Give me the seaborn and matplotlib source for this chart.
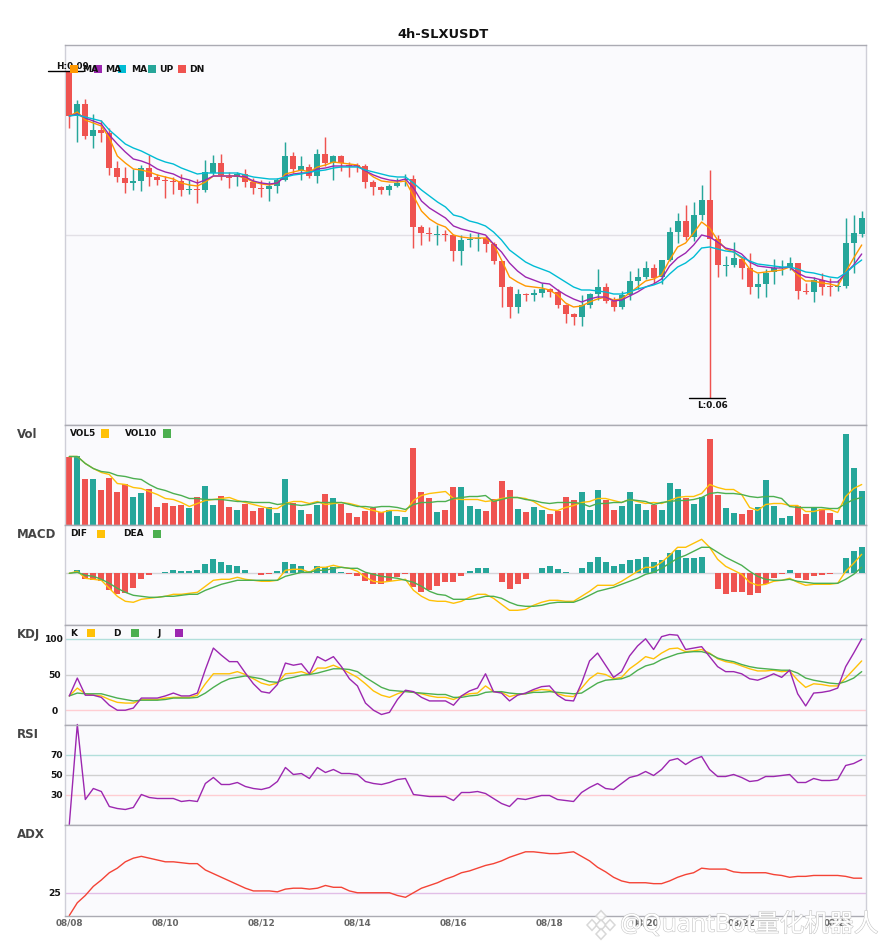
"""
plot.py
Rebuilds the 4h-SLXUSDT indicator board: candles, Vol, MACD, KDJ, RSI, ADX.
"""

import numpy as np
import pandas as pd
import matplotlib.pyplot as plt
import matplotlib.patheffects as pe
from matplotlib.patches import Rectangle, RegularPolygon
import seaborn as sns

# Prices are in units of 0.0001
open_px = [926, 882, 894, 862, 868, 865, 830, 820, 815, 817, 830, 821, 818, 817, 817, 808, 809, 808, 825, 835,
           821, 821, 824, 816, 810, 809, 812, 818, 842, 827, 831, 822, 844, 835, 842, 833, 833, 832, 816, 811,
           808, 812, 818, 819, 771, 765, 763, 764, 763, 747, 758, 759, 760, 754, 737, 711, 691, 704, 703, 705,
           709, 706, 693, 684, 681, 693, 704, 711, 697, 691, 703, 717, 721, 730, 721, 738, 766, 777, 761, 783,
           798, 759, 732, 733, 739, 730, 711, 714, 726, 730, 731, 735, 707, 706, 718, 712, 711, 712, 755, 764]
close_px = [882, 894, 862, 868, 865, 830, 821, 815, 817, 830, 821, 818, 817, 816, 808, 809, 808, 826, 835, 823,
            820, 824, 816, 810, 809, 812, 818, 842, 829, 832, 822, 844, 835, 842, 835, 832, 832, 816, 811, 808,
            812, 815, 819, 771, 765, 764, 764, 763, 747, 758, 759, 760, 754, 737, 711, 691, 704, 703, 705, 709,
            706, 693, 684, 681, 693, 704, 711, 697, 691, 703, 717, 721, 730, 720, 738, 766, 777, 761, 783, 798,
            759, 733, 733, 740, 730, 711, 714, 725, 730, 731, 735, 707, 706, 718, 711, 711, 712, 755, 765, 780]
high_px = [927, 898, 899, 884, 878, 870, 837, 831, 829, 833, 843, 824, 822, 821, 824, 818, 819, 838, 843, 844,
           826, 826, 829, 820, 818, 817, 820, 856, 846, 842, 834, 849, 861, 843, 843, 836, 835, 834, 818, 812,
           814, 820, 824, 823, 773, 771, 773, 768, 764, 763, 765, 765, 762, 756, 737, 712, 709, 705, 709, 715,
           710, 709, 694, 685, 703, 705, 729, 715, 701, 707, 727, 730, 737, 734, 738, 771, 785, 793, 796, 813,
           828, 763, 742, 756, 741, 745, 725, 729, 739, 738, 741, 735, 715, 721, 725, 720, 718, 780, 783, 787]
low_px = [870, 856, 859, 850, 856, 823, 816, 805, 808, 807, 812, 813, 800, 804, 802, 804, 795, 806, 823, 818,
          810, 812, 811, 804, 801, 797, 805, 817, 825, 818, 820, 815, 832, 818, 827, 821, 826, 810, 803, 804,
          803, 811, 812, 750, 753, 757, 753, 757, 737, 733, 751, 747, 746, 734, 691, 680, 685, 697, 697, 701,
          701, 690, 675, 673, 672, 690, 698, 695, 687, 689, 698, 709, 719, 714, 714, 737, 755, 758, 757, 778,
          600, 721, 722, 731, 719, 704, 700, 701, 714, 723, 728, 699, 704, 696, 703, 702, 707, 710, 725, 761]
ma5 = [882, 886, 878, 875, 872, 860, 842, 835, 829, 828, 826, 823, 821, 819, 815, 813, 812, 816, 822, 822,
       822, 822, 820, 816, 814, 813, 815, 824, 826, 828, 826, 831, 833, 836, 835, 834, 833, 827, 821, 817,
       816, 816, 817, 802, 787, 779, 774, 771, 763, 761, 760, 760, 760, 754, 738, 721, 716, 712, 711, 710,
       708, 703, 695, 691, 692, 696, 699, 701, 698, 699, 705, 711, 717, 719, 723, 738, 751, 755, 765, 776,
       770, 758, 749, 746, 740, 729, 725, 726, 727, 728, 731, 723, 717, 717, 715, 714, 712, 726, 740, 753]
ma10 = [882, 884, 880, 877, 874, 863, 854, 846, 839, 837, 834, 829, 826, 824, 820, 818, 815, 818, 822, 822,
        822, 822, 821, 817, 815, 814, 815, 822, 824, 825, 825, 829, 830, 832, 832, 832, 832, 827, 823, 820,
        818, 817, 819, 810, 797, 790, 785, 780, 772, 769, 767, 765, 763, 754, 746, 735, 727, 721, 718, 715,
        714, 708, 703, 699, 696, 699, 701, 701, 697, 698, 702, 706, 711, 714, 719, 732, 740, 745, 753, 763,
        761, 756, 750, 748, 744, 736, 732, 731, 730, 730, 731, 725, 721, 720, 718, 716, 716, 725, 733, 744]
ma20 = [882, 883, 881, 879, 877, 868, 861, 854, 850, 847, 843, 839, 836, 834, 830, 827, 824, 825, 825, 825,
        825, 825, 823, 821, 820, 819, 819, 821, 823, 824, 826, 827, 828, 830, 831, 831, 831, 828, 826, 824,
        822, 821, 821, 815, 808, 802, 796, 791, 783, 781, 777, 775, 772, 766, 758, 748, 742, 736, 732, 729,
        726, 721, 716, 711, 708, 708, 707, 706, 704, 704, 706, 709, 711, 713, 716, 724, 731, 735, 741, 750,
        751, 749, 747, 746, 741, 737, 734, 733, 732, 731, 731, 729, 726, 725, 723, 721, 720, 725, 732, 738]

volume = [68, 69, 46, 46, 35, 47, 33, 41, 28, 32, 36, 18, 22, 19, 20, 17, 28, 39, 20, 29,
          18, 15, 21, 14, 17, 18, 12, 46, 22, 15, 11, 20, 31, 27, 21, 12, 8, 14, 17, 13,
          15, 9, 8, 77, 33, 27, 13, 15, 38, 38, 19, 16, 14, 26, 44, 35, 16, 13, 18, 15,
          11, 14, 28, 25, 33, 15, 35, 25, 15, 19, 33, 21, 15, 20, 15, 42, 36, 27, 21, 28,
          86, 30, 17, 12, 11, 15, 18, 45, 19, 7, 9, 19, 11, 18, 16, 12, 5, 91, 57, 34]
vol5 = [68, 68, 61, 56, 52, 50, 41, 40, 37, 36, 33, 30, 26, 25, 22, 18, 21, 24, 25, 26,
        27, 24, 22, 20, 18, 16, 16, 21, 23, 23, 21, 23, 20, 21, 22, 21, 19, 16, 14, 12,
        14, 14, 13, 24, 29, 31, 32, 33, 26, 25, 25, 25, 23, 24, 26, 27, 27, 26, 23, 18,
        15, 14, 17, 19, 22, 23, 26, 26, 24, 22, 25, 23, 21, 22, 21, 24, 27, 28, 28, 31,
        40, 37, 35, 35, 30, 17, 14, 20, 21, 21, 19, 19, 13, 13, 15, 15, 12, 28, 36, 40]
vol10 = [68, 68, 61, 56, 53, 52, 49, 48, 46, 45, 40, 36, 34, 31, 29, 26, 26, 25, 25, 25,
         24, 23, 23, 22, 22, 22, 20, 21, 20, 19, 20, 22, 22, 22, 22, 20, 18, 18, 17, 18,
         18, 17, 15, 20, 22, 22, 23, 23, 26, 27, 28, 28, 29, 23, 25, 27, 27, 25, 24, 22,
         21, 22, 22, 22, 21, 18, 21, 21, 22, 22, 25, 24, 23, 20, 22, 23, 24, 24, 25, 27,
         31, 32, 31, 31, 30, 28, 27, 28, 28, 26, 18, 17, 17, 17, 17, 16, 16, 21, 25, 27]

macd_hist = [0, 3, -6, -7, -8, -17, -21, -20, -15, -6, -2, 0, 1, 3, 2, 2, 3, 9, 14, 11,
             8, 7, 3, 0, -2, -1, 2, 11, 9, 7, 2, 7, 6, 6, 1, -1, -3, -8, -11, -11,
             -8, -4, -1, -14, -19, -17, -13, -9, -9, -3, 2, 5, 5, 0, -9, -16, -11, -6, 0, 5,
             7, 4, 1, 0, 5, 11, 16, 11, 7, 9, 13, 14, 16, 11, 13, 20, 23, 15, 15, 16,
             0, -16, -21, -19, -19, -22, -20, -11, -5, -1, 3, -5, -7, -3, -2, -1, 0, 15, 22, 26]
dif = [0, 2, -5, -6, -7, -15, -23, -28, -29, -26, -25, -24, -23, -21, -21, -20, -19, -13, -7, -6,
       -6, -4, -6, -7, -8, -8, -7, 3, 4, 4, 1, 6, 6, 8, 6, 5, 2, -4, -8, -9,
       -8, -7, -6, -17, -23, -27, -28, -28, -30, -28, -24, -21, -21, -25, -31, -37, -37, -36, -32, -29,
       -27, -27, -28, -28, -23, -18, -12, -12, -12, -8, -3, 2, 6, 6, 11, 18, 26, 26, 30, 34,
       26, 14, 7, 3, -1, -9, -12, -11, -8, -7, -5, -9, -12, -11, -11, -11, -10, 2, 10, 19]
dea = [0, 1, -2, -3, -6, -10, -15, -19, -22, -23, -24, -24, -23, -23, -22, -21, -21, -17, -14, -11,
       -9, -7, -7, -7, -7, -7, -7, -3, -1, 1, 1, 3, 3, 5, 6, 5, 5, 1, -1, -3,
       -4, -5, -7, -9, -13, -18, -21, -22, -26, -26, -26, -25, -23, -23, -25, -29, -32, -33, -33, -32,
       -30, -29, -29, -29, -26, -22, -18, -16, -14, -11, -8, -5, -1, 1, 5, 10, 15, 18, 22, 26,
       26, 21, 16, 12, 8, 2, -3, -6, -7, -7, -6, -8, -9, -10, -10, -10, -10, -6, -1, 6]

kdj_k = [20, 31, 23, 21, 20, 15, 11, 10, 10, 15, 15, 15, 17, 18, 18, 18, 21, 37, 51, 51,
         51, 54, 50, 44, 38, 35, 38, 51, 52, 54, 50, 59, 59, 63, 58, 52, 46, 37, 27, 21,
         18, 23, 27, 25, 23, 20, 18, 18, 15, 20, 23, 24, 34, 26, 25, 19, 22, 23, 27, 29,
         28, 23, 20, 19, 31, 44, 52, 50, 44, 46, 58, 66, 75, 72, 80, 86, 87, 82, 83, 85,
         80, 72, 68, 66, 62, 58, 55, 55, 56, 54, 55, 42, 32, 37, 36, 34, 34, 45, 57, 69]
kdj_d = [20, 24, 23, 23, 23, 20, 17, 15, 13, 14, 14, 14, 15, 17, 17, 17, 18, 24, 32, 39,
         44, 46, 48, 46, 44, 40, 39, 44, 46, 49, 50, 52, 55, 58, 58, 57, 54, 46, 39, 32,
         28, 27, 26, 25, 24, 23, 22, 22, 18, 18, 20, 21, 25, 26, 26, 24, 23, 23, 25, 25,
         26, 25, 24, 23, 24, 31, 38, 42, 43, 44, 48, 56, 62, 65, 71, 75, 79, 81, 82, 82,
         79, 73, 70, 68, 64, 61, 59, 58, 57, 56, 56, 52, 45, 42, 40, 38, 37, 40, 45, 54]
kdj_j = [20, 45, 21, 21, 18, 7, 0, 0, 3, 17, 17, 17, 20, 24, 20, 20, 24, 57, 87, 77,
         68, 68, 52, 37, 26, 24, 36, 66, 63, 65, 51, 75, 69, 75, 61, 44, 34, 10, 0, -6,
         -3, 15, 28, 26, 18, 13, 13, 13, 7, 20, 27, 31, 51, 26, 24, 13, 21, 24, 29, 33,
         34, 21, 14, 13, 38, 69, 80, 63, 46, 54, 76, 90, 100, 85, 103, 106, 105, 85, 87, 89,
         75, 61, 54, 54, 51, 44, 42, 46, 51, 46, 56, 23, 6, 24, 25, 27, 31, 61, 80, 100]
rsi = [0, 100, 25, 36, 33, 18, 16, 15, 17, 30, 27, 26, 26, 26, 23, 24, 23, 41, 47, 40,
       40, 42, 38, 36, 35, 37, 43, 57, 50, 51, 46, 57, 52, 55, 51, 51, 50, 43, 41, 40,
       42, 45, 46, 30, 29, 28, 28, 28, 24, 32, 32, 33, 31, 26, 21, 18, 26, 25, 27, 29,
       29, 25, 24, 23, 32, 37, 41, 36, 35, 41, 47, 49, 53, 49, 55, 64, 66, 60, 65, 68,
       55, 48, 48, 50, 47, 43, 44, 48, 48, 49, 50, 42, 42, 46, 44, 44, 45, 59, 61, 65]
adx = [0, 14, 22, 32, 39, 47, 52, 59, 63, 65, 63, 61, 59, 59, 58, 57, 57, 50, 46, 42,
       38, 34, 30, 27, 27, 27, 26, 29, 30, 30, 29, 30, 33, 31, 31, 27, 25, 25, 25, 25,
       25, 22, 20, 25, 30, 33, 36, 40, 43, 47, 49, 52, 55, 57, 60, 64, 67, 70, 70, 69,
       68, 68, 69, 70, 65, 60, 53, 48, 42, 38, 36, 36, 36, 35, 35, 38, 42, 45, 47, 52,
       51, 51, 51, 48, 47, 47, 47, 47, 45, 44, 42, 43, 43, 44, 44, 44, 44, 43, 41, 41]

date_labels = ["08/08", "08/10", "08/12", "08/14", "08/16", "08/18", "08/20", "08/22", "08/24"]

# Style
UP = "#26A69A"
DOWN = "#EF5350"
PANEL_BG = "#FAFAFD"
YELLOW = "#FFC107"
GREEN = "#4CAF50"
PURPLE = "#9C27B0"
W, H = 885, 950

sns.set_theme(style="white")
plt.rcParams.update({
    "font.family": ["DejaVu Sans", "Noto Sans CJK SC"],
    "font.weight": "bold",
    "patch.force_edgecolor": False,
})


def panel(fig, top, bottom, left=65.3, right=865.7):
    ax = fig.add_axes([left / W, 1 - bottom / H, (right - left) / W, (bottom - top) / H])
    ax.set_facecolor(PANEL_BG)
    for side in ax.spines:
        ax.spines[side].set_color("#CFCFD8")
        ax.spines[side].set_linewidth(1.0)
    for side in ("top", "bottom"):
        ax.spines[side].set_color("#ABABB3")
    ax.set_xlim(-0.5, 99.5)
    ax.set_xticks([])
    ax.set_yticks([])
    ax.set_xlabel("")
    ax.set_ylabel("")
    return ax


def draw_line(ax, x, y, color, lw=1.0, **kw):
    sns.lineplot(x=x, y=y, ax=ax, color=color, linewidth=lw, errorbar=None, legend=False, **kw)
    ax.set_xlabel("")
    ax.set_ylabel("")


def draw_bars(ax, frame, col, hue):
    sns.barplot(data=frame, x="idx", y=col, hue=hue, palette={"up": UP, "down": DOWN},
                native_scale=True, dodge=False, width=0.75, saturation=1, legend=False,
                linewidth=0, edgecolor="none", ax=ax)
    ax.set_xlabel("")
    ax.set_ylabel("")
    ax.set_xlim(-0.5, 99.5)
    ax.set_xticks([])


def legend_key(fig, x, y, color, size=8):
    fig.add_artist(Rectangle((x / W, 1 - (y + size / 2) / H), size / W, size / H,
                             transform=fig.transFigure, facecolor=color, edgecolor="none"))


def fig_text(fig, x, y, text, size=6.4, color="#111111", **kw):
    fig.text(x / W, 1 - y / H, text, fontsize=size, color=color, fontweight="bold", va="center", **kw)


def hlines(ax, values, colors):
    for val, col in zip(values, colors):
        ax.axhline(val, color=col, linewidth=1.0, zorder=1)


def value_ticks(ax, ticks, pad):
    ax.set_yticks(ticks)
    ax.set_yticklabels([str(t) for t in ticks], fontsize=6.6, fontweight="bold", color="#111111", ha="center")
    ax.tick_params(axis="y", length=0, pad=pad, left=False)


df = pd.DataFrame({
    "idx": np.arange(len(open_px)),
    "open": np.array(open_px) * 1e-4,
    "close": np.array(close_px) * 1e-4,
    "high": np.array(high_px) * 1e-4,
    "low": np.array(low_px) * 1e-4,
    "volume": volume,
    "macd": macd_hist,
})
df["dir"] = np.where(df["close"] >= df["open"], "up", "down")
df["macd_dir"] = np.where(df["macd"] >= 0, "up", "down")
idx = df["idx"]

fig = plt.figure(figsize=(W / 100, H / 100), dpi=100, facecolor="white")

# ─── Candles ──────────────────────────────────────────────────────────────────
ax = panel(fig, 45.3, 424.5)
ax.set_ylim(0.05735, 0.09527)
ax.axhline(0.0763, color="#E2E0E6", linewidth=1.0, zorder=1)
colors = df["dir"].map({"up": UP, "down": DOWN})
ax.vlines(idx, df["low"], df["high"], colors=colors, linewidth=1.05, zorder=2)
ax.bar(idx, (df["close"] - df["open"]).abs(), bottom=df[["open", "close"]].min(axis=1),
       width=0.75, color=colors, linewidth=0, edgecolor="none", zorder=3)
draw_line(ax, idx, np.array(ma5) * 1e-4, "#FF9800", zorder=4)
draw_line(ax, idx, np.array(ma10) * 1e-4, PURPLE, zorder=4)
draw_line(ax, idx, np.array(ma20) * 1e-4, "#00BCD4", zorder=4)

high_val, low_val = df["high"].max(), df["low"].min()
ax.plot([-2.6, 1.75], [high_val, high_val], color="black", linewidth=1.0, clip_on=False, zorder=6)
ax.plot([77.4, 81.9], [low_val, low_val], color="black", linewidth=1.0, clip_on=False, zorder=6)
ax.text(-1.6, high_val, f"H:{high_val:.2f}", fontsize=6.4, fontweight="bold", color="#111111",
        ha="left", va="bottom", zorder=8, clip_on=False)
ax.text(78.4, low_val - 0.0003, f"L:{low_val:.2f}", fontsize=6.4, fontweight="bold", color="#111111",
        ha="left", va="top", zorder=8)

for x, col in [(70, "#FF9800"), (94, PURPLE), (118, "#00BCD4"), (148, UP), (178, DOWN)]:
    legend_key(fig, x, 69, col)
for x, label in [(82, "MA"), (105, "MA"), (131, "MA"), (159, "UP"), (189, "DN")]:
    fig_text(fig, x, 69, label, size=6.6)

# ─── Vol ──────────────────────────────────────────────────────────────────────
ax = panel(fig, 424.5, 524.5)
draw_bars(ax, df, "volume", "dir")
ax.set_ylim(0, 100)
ax.set_yticks([])
draw_line(ax, idx, vol5, YELLOW)
draw_line(ax, idx, vol10, GREEN)

# ─── MACD ─────────────────────────────────────────────────────────────────────
ax = panel(fig, 524.5, 624.5)
draw_bars(ax, df, "macd", "macd_dir")
ax.set_ylim(-51.2, 48.8)
ax.set_yticks([])
ax.axhline(0, color="#D5D5DA", linewidth=1.0, zorder=0)
draw_line(ax, idx, dif, YELLOW)
draw_line(ax, idx, dea, GREEN)

# ─── KDJ ──────────────────────────────────────────────────────────────────────
ax = panel(fig, 624.5, 724.5)
ax.set_ylim(-20, 120)
hlines(ax, [100, 50, 0], ["#B2DFDB", "#D0D0D0", "#FFCDD2"])
value_ticks(ax, [0, 50, 100], 7.6)
draw_line(ax, idx, kdj_k, YELLOW)
draw_line(ax, idx, kdj_d, GREEN)
draw_line(ax, idx, kdj_j, PURPLE)

# ─── RSI ──────────────────────────────────────────────────────────────────────
ax = panel(fig, 724.5, 824.5)
ax.set_ylim(0, 100)
hlines(ax, [70, 50, 30], ["#B2DFDB", "#D0D0D0", "#FFCDD2"])
value_ticks(ax, [30, 50, 70], 6.2)
draw_line(ax, idx, rsi, PURPLE, clip_on=False)

# ─── ADX ──────────────────────────────────────────────────────────────────────
ax = panel(fig, 824.5, 915.5)
ax.set_ylim(0, 100)
hlines(ax, [25], ["#E1BEE7"])
value_ticks(ax, [25], 7.4)
draw_line(ax, idx, adx, "#F44336")
ax.set_xticks(np.arange(len(date_labels)) * 12)
ax.set_xticklabels(date_labels, fontsize=6.4, fontweight="bold", color="#666666")
ax.tick_params(axis="x", length=0, pad=2, bottom=False)

# ─── Labels ───────────────────────────────────────────────────────────────────
fig_text(fig, 443.5, 34, "4h-SLXUSDT", size=9.4, color="#111111", ha="center")
for y, label in [(434, "Vol"), (534.5, "MACD"), (634.5, "KDJ"), (734.5, "RSI"), (834.5, "ADX")]:
    fig_text(fig, 17, y, label, size=8.5, color="#444444")

fig_text(fig, 70, 433.5, "VOL5")
legend_key(fig, 101, 433.5, YELLOW)
fig_text(fig, 125, 433.5, "VOL10")
legend_key(fig, 163, 433.5, GREEN)
fig_text(fig, 70, 533.5, "DIF")
legend_key(fig, 97, 533.5, YELLOW)
fig_text(fig, 123, 533.5, "DEA")
legend_key(fig, 153, 533.5, GREEN)
fig_text(fig, 70, 633.5, "K")
legend_key(fig, 87, 633, YELLOW)
fig_text(fig, 113, 633.5, "D")
legend_key(fig, 131, 633, GREEN)
fig_text(fig, 157, 633.5, "J")
legend_key(fig, 175, 633, PURPLE)

# ─── Watermark ────────────────────────────────────────────────────────────────
outline = [pe.Stroke(linewidth=0.8, foreground="#C6C6C6"), pe.Normal()]
fig.text(620 / W, 1 - 925 / H, "@QuantBot量化机器人", fontsize=17.8, color="white", fontweight="normal",
         family=["Noto Sans", "Noto Sans CJK SC"], va="center", path_effects=outline, zorder=20)
for cx, cy in [(601, 916), (592, 925), (601, 925), (610, 925), (601, 934)]:
    fig.add_artist(RegularPolygon((cx / W, 1 - cy / H), 4, radius=5 / W, orientation=0,
                                  transform=fig.transFigure, facecolor="white", edgecolor="#D4D4D4",
                                  linewidth=1.1, alpha=0.9, zorder=20))

plt.savefig("out.png", dpi=100, facecolor="white")
plt.close()
